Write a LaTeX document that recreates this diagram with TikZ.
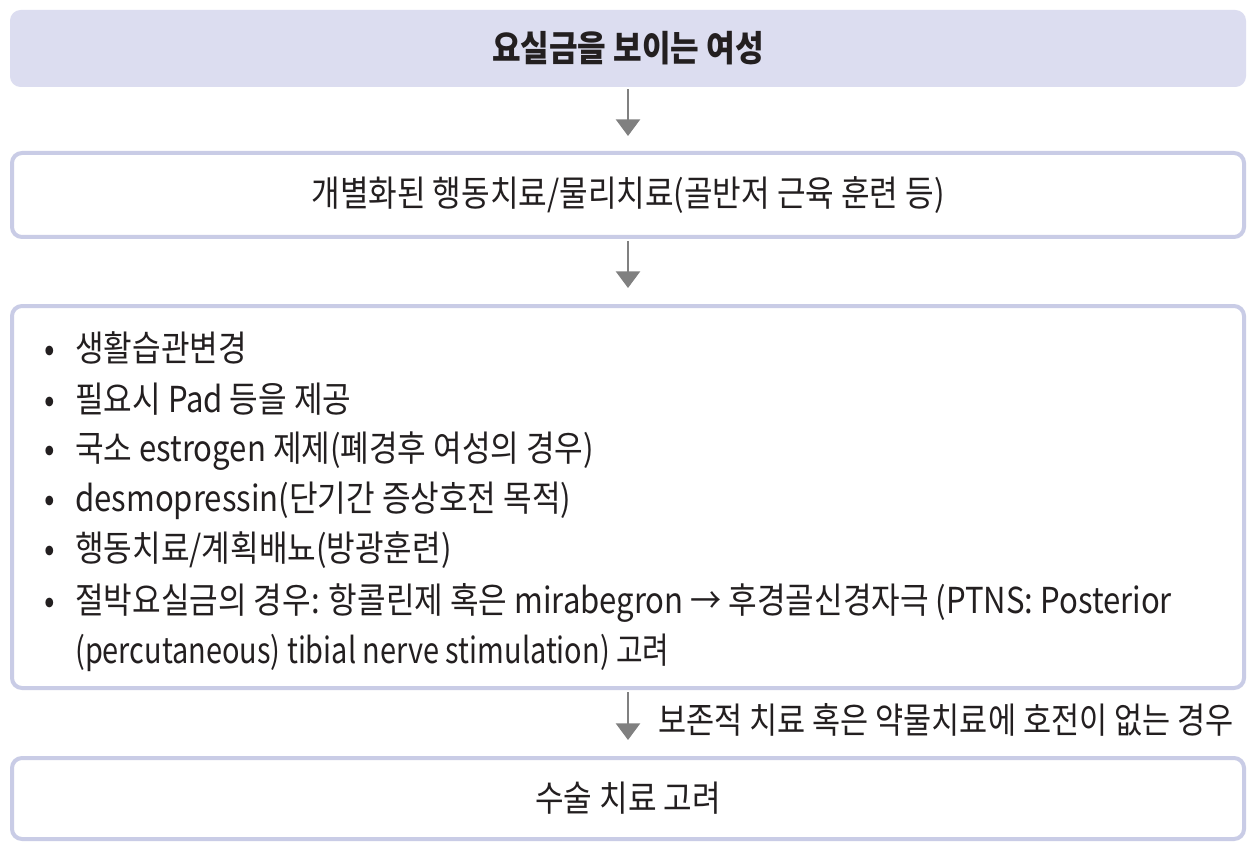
\documentclass[tikz,border=0pt]{standalone}
\usepackage{fontspec}
\setmainfont{Noto Sans CJK KR}[FakeStretch=0.87]
\usetikzlibrary{arrows.meta}
\definecolor{boxfill}{HTML}{DCDDF0}
\definecolor{boxline}{HTML}{C9CCE6}
\definecolor{arrowgray}{HTML}{808080}
\definecolor{txt}{HTML}{231F20}
\begin{document}
\begin{tikzpicture}[x=0.75pt,y=-0.75pt,
  txtstyle/.style={font=\fontsize{26.8pt}{32pt}\selectfont, text=txt},
  box/.style={draw=boxline, line width=3pt, rounded corners=7.5pt, fill=white, txtstyle, minimum width=924pt},
  flow/.style={draw=arrowgray, line width=2pt, -{Triangle[width=18pt,length=12.5pt]}, shorten <=1.5pt},
  item/.style={txtstyle, inner sep=0pt, anchor=base west},
  bul/.style={txtstyle, inner sep=0pt, anchor=base}]
\useasboundingbox (0,0) rectangle (1256,852);
\fill[white] (0,0) rectangle (1256,852);
% boxes
\node[fill=boxfill, rounded corners=8pt, txtstyle, minimum width=927pt, minimum height=57.75pt] (b1) at (628,48.5) {\bfseries 요실금을 보이는 여성};
\node[box, minimum height=63pt] (b2) at (628,195) {개별화된 행동치료/물리치료(골반저 근육 훈련 등)};
\node[box, minimum height=286.5pt] (b3) at (628,497) {};
\node[box, minimum height=60.75pt] (b4) at (628,798.5) {수술 치료 고려};
% arrows
\draw[flow, shorten >=11.25pt] (b1.south) -- (b2.north);
\draw[flow, shorten >=12pt] (b2.south) -- (b3.north);
\draw[flow, shorten >=12pt] (b3.south) -- (b4.north);
\node[txtstyle, inner sep=0pt, anchor=base west, xscale=0.983, transform shape] (a3lbl) at (658,733) {보존적 치료 혹은 약물치료에 호전이 없는 경우};
% list
\node[bul] (p1) at (50,361) {•};
\node[item] (l1) at (75,361) {생활습관변경};
\node[bul] (p2) at (50,412) {•};
\node[item] (l2) at (75,412) {필요시 Pad 등을 제공};
\node[bul] (p3) at (50,461) {•};
\node[item] (l3) at (75,461) {국소 estrogen 제제(폐경후 여성의 경우)};
\node[bul] (p4) at (50,511) {•};
\node[item] (l4) at (75,511) {desmopressin(단기간 증상호전 목적)};
\node[bul] (p5) at (50,561) {•};
\node[item] (l5) at (75,561) {행동치료/계획배뇨(방광훈련)};
\node[bul] (p6) at (50,613) {•};
\node[item] (l6) at (75,613) {절박요실금의 경우: 항콜린제 혹은 mirabegron → 후경골신경자극 (PTNS: Posterior};
\node[item, xscale=0.93, transform shape] (l7) at (75,663) {(percutaneous) tibial nerve stimulation) 고려};
\end{tikzpicture}
\end{document}
